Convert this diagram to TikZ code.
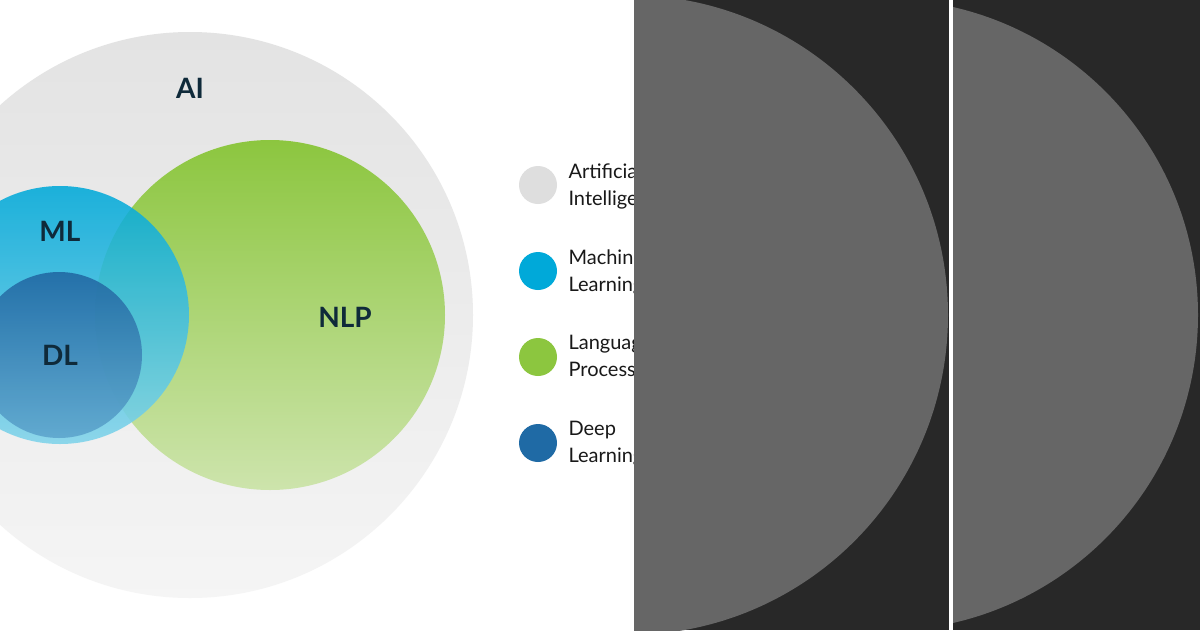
\documentclass[tikz,border=0pt]{standalone}
\usepackage{fontspec}
\setmainfont{Lato}
\definecolor{navy}{HTML}{0F2A3A}
\definecolor{dark}{HTML}{282828}
\definecolor{mid}{HTML}{666666}
\definecolor{gtop}{HTML}{8CC63F}
\definecolor{gbot}{HTML}{CDE4AC}
\definecolor{btop}{HTML}{00A9D9}
\definecolor{bbot}{HTML}{7FD3EA}
\definecolor{dtop}{HTML}{1F64A0}
\definecolor{dbot}{HTML}{5BA3CC}
\definecolor{dlg}{HTML}{1F6AA5}
\tikzset{lbl/.style={font=\bfseries\fontsize{28}{30}\selectfont,text=navy},
 leg/.style={anchor=west,align=left,font=\fontsize{20}{27}\selectfont,text=black!90},
 dot/.style={circle,minimum size=38pt,inner sep=0pt}}
\begin{document}
\begin{tikzpicture}[x=1pt,y=-1pt]
\useasboundingbox (0,0) rectangle (1200,630);
\fill[white] (0,0) rectangle (1200,630);
\begin{scope}
\clip (0,0) rectangle (634,630);
\shade[top color=black!11,bottom color=black!4] (190,315) circle (283);
\shade[top color=gtop,bottom color=gbot] (270,315) circle (175);
\shade[top color=btop,bottom color=bbot,opacity=0.88] (60,315) circle (129);
\shade[top color=dtop,bottom color=dbot,opacity=0.85] (59,355) circle (83);
\end{scope}
\node[lbl] (ai) at (190,88) {AI};
\node[lbl] (ml) at (60,231) {ML};
\node[lbl] (nlp) at (345,317) {NLP};
\node[lbl] (dl) at (60,355) {DL};
\node[dot,fill=black!13] (d1) at (538,185) {};
\node[dot,fill=btop] (d2) at (538,271) {};
\node[dot,fill=gtop] (d3) at (538,357) {};
\node[dot,fill=dlg] (d4) at (538,443) {};
\node[leg] (t1) at (565,186) {Artificial\\Intelligence};
\node[leg] (t2) at (565,272) {Machine\\Learning};
\node[leg] (t3) at (565,358) {Language\\Processing};
\node[leg] (t4) at (565,444) {Deep\\Learning};
\fill[dark] (634,0) rectangle (1200,630);
\begin{scope}
\clip (634,0) rectangle (949,630);
\fill[mid] (628,315) circle (320);
\end{scope}
\fill[white] (949,0) rectangle (953,630);
\begin{scope}
\clip (953,0) rectangle (1200,630);
\fill[mid] (882,315) circle (316);
\end{scope}
\end{tikzpicture}
\end{document}
